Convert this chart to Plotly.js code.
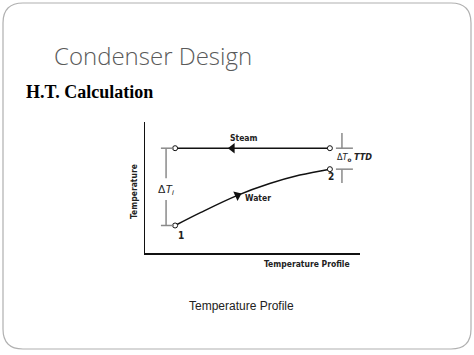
<!DOCTYPE html>
<html>
<head>
<meta charset="utf-8">
<script src="https://cdn.plot.ly/plotly-3.0.1.min.js"></script>
<style>html,body{margin:0;padding:0;background:#fff;}#chart{width:474px;height:355px;}</style>
</head>
<body>
<div id="chart"></div>
<script>
// Flow position along the condenser (arbitrary units) and temperature (arbitrary units)
var steamX = [14, 86];
var steamT = [80, 80];
var waterX = [14, 26, 43, 58, 72, 86];
var waterT = [21, 31, 44, 53, 59.5, 64];
var pointLabels = ['1', '2'];
var seriesNames = ['Steam', 'Water'];
var xAxisTitle = 'Temperature Profile';
var yAxisTitle = 'Temperature';
var slideTitle = 'Condenser Design';
var slideSubtitle = 'H.T. Calculation';
var caption = 'Temperature Profile';

var W = 474, H = 355;
var narrow = '"DejaVu Sans Condensed", "Liberation Sans Narrow", "Liberation Sans", Arial, sans-serif';
var grey = '#8a8a8a';
var last = waterX.length - 1;

var steamArrowX = steamX[0] + 0.37 * (steamX[1] - steamX[0]);

var traces = [
  {x: steamX, y: steamT, mode: 'lines', line: {color: '#111', width: 1.5}, hoverinfo: 'skip'},
  {x: waterX, y: waterT, mode: 'lines', line: {color: '#111', width: 1.5, shape: 'spline', smoothing: 1}, hoverinfo: 'skip'},
  {x: [steamArrowX], y: [steamT[0]], mode: 'markers', marker: {symbol: 'triangle-left', size: 9, color: '#111'}, hoverinfo: 'skip'},
  {x: [waterX[2]], y: [waterT[2]], mode: 'markers', marker: {symbol: 'triangle-right', size: 9, color: '#111', angle: -24}, hoverinfo: 'skip'},
  {x: [steamX[0], steamX[1], waterX[0], waterX[last]], y: [steamT[0], steamT[1], waterT[0], waterT[last]],
   mode: 'markers', marker: {symbol: 'circle', size: 5, color: '#fff', line: {color: '#111', width: 1}}, hoverinfo: 'skip'}
];

// bracket geometry (data units)
var lbx = 9.8, lt0 = 7.4, lt1 = 13.5;
var rbx = 91.6, rt0 = 88.8, rt1 = 96.7;
function seg(x0, y0, x1, y1) {
  return {type: 'line', xref: 'x', yref: 'y', x0: x0, y0: y0, x1: x1, y1: y1, line: {color: grey, width: 1.5}};
}
var shapes = [
  seg(lt0, steamT[0], lt1, steamT[0]),
  seg(lt0, waterT[0], lt1, waterT[0]),
  seg(lbx, steamT[0], lbx, 57),
  seg(lbx, 40.5, lbx, waterT[0]),
  seg(rt0, steamT[1], rt1, steamT[1]),
  seg(rt0, waterT[last], rt1, waterT[last]),
  seg(rbx, steamT[1], rbx, 91.6),
  seg(rbx, waterT[last], rbx, 53.4),
  // slide frame
  {type: 'path', xref: 'paper', yref: 'paper',
   path: (function () {
     var l = 3 / W, r = 471 / W, t = 1 - 3 / H, b = 1 - 349 / H, rx = 20 / W, ry = 20 / H;
     return 'M' + (l + rx) + ',' + t + ' L' + (r - rx) + ',' + t + ' Q' + r + ',' + t + ' ' + r + ',' + (t - ry) +
       ' L' + r + ',' + (b + ry) + ' Q' + r + ',' + b + ' ' + (r - rx) + ',' + b +
       ' L' + (l + rx) + ',' + b + ' Q' + l + ',' + b + ' ' + l + ',' + (b + ry) +
       ' L' + l + ',' + (t - ry) + ' Q' + l + ',' + t + ' ' + (l + rx) + ',' + t + ' Z';
   })(),
   line: {color: '#b0b0b0', width: 1.2}}
];

function px(x) { return x / W; }
function py(y) { return 1 - y / H; }

var annotations = [
  {xref: 'paper', yref: 'paper', x: px(52), y: py(55), xanchor: 'left', yanchor: 'middle', showarrow: false,
   text: slideTitle, font: {family: '"Open Sans", sans-serif', size: 24, color: '#5a5a5a', weight: 300}},
  {xref: 'paper', yref: 'paper', x: px(24), y: py(92), xanchor: 'left', yanchor: 'middle', showarrow: false,
   text: '<b>' + slideSubtitle + '</b>', font: {family: '"Liberation Serif", "Times New Roman", serif', size: 18, color: '#000'}},
  {xref: 'paper', yref: 'paper', x: px(241), y: py(306), xanchor: 'center', yanchor: 'middle', showarrow: false,
   text: caption, font: {family: '"Liberation Sans", Arial, sans-serif', size: 12, color: '#222'}},
  {xref: 'paper', yref: 'paper', x: px(307), y: py(264), xanchor: 'center', yanchor: 'middle', showarrow: false,
   text: '<b>' + xAxisTitle + '</b>', font: {family: narrow, size: 8.5, color: '#222'}},
  {xref: 'paper', yref: 'paper', x: px(134), y: py(192), xanchor: 'center', yanchor: 'middle', showarrow: false, textangle: -90,
   text: '<b>' + yAxisTitle + '</b>', font: {family: narrow, size: 8.5, color: '#222'}},
  {xref: 'x', yref: 'y', x: 46, y: 87.8, xanchor: 'center', yanchor: 'middle', showarrow: false,
   text: '<b>' + seriesNames[0] + '</b>', font: {family: narrow, size: 8.5, color: '#222'}},
  {xref: 'x', yref: 'y', x: 52.6, y: 42, xanchor: 'center', yanchor: 'middle', showarrow: false,
   text: '<b>' + seriesNames[1] + '</b>', font: {family: narrow, size: 8.5, color: '#222'}},
  {xref: 'x', yref: 'y', x: lbx, y: 48, xanchor: 'center', yanchor: 'middle', showarrow: false,
   text: 'Δ<i>T</i><sub><i>i</i></sub>', font: {family: '"Liberation Sans", Arial, sans-serif', size: 11, color: '#222'}},
  {xref: 'x', yref: 'y', x: rt0 - 0.5, y: 73, xanchor: 'left', yanchor: 'middle', showarrow: false,
   text: 'Δ<i>T</i><sub><b>o</b></sub> <i><b>TTD</b></i>', font: {family: narrow, size: 9, color: '#222'}},
  {xref: 'x', yref: 'y', x: 16.8, y: 13, xanchor: 'center', yanchor: 'middle', showarrow: false,
   text: '<b>' + pointLabels[0] + '</b>', font: {family: narrow, size: 10, color: '#222'}},
  {xref: 'x', yref: 'y', x: 86.5, y: 58.5, xanchor: 'center', yanchor: 'middle', showarrow: false,
   text: '<b>' + pointLabels[1] + '</b>', font: {family: narrow, size: 10, color: '#222'}}
];

var axisCommon = {showline: true, linecolor: '#111', linewidth: 1.5, showgrid: false, zeroline: false,
  showticklabels: false, ticks: '', fixedrange: true};

var layout = {
  width: W, height: H,
  margin: {l: 0, r: 0, t: 0, b: 0, pad: 0},
  paper_bgcolor: '#fff', plot_bgcolor: '#fff',
  showlegend: false,
  xaxis: Object.assign({domain: [145 / W, 360 / W], range: [0, 100]}, axisCommon),
  yaxis: Object.assign({domain: [1 - 253 / H, 1 - 122 / H], range: [0, 100]}, axisCommon),
  shapes: shapes,
  annotations: annotations
};

Plotly.newPlot('chart', traces, layout, {staticPlot: true, displayModeBar: false});
</script>
</body>
</html>
